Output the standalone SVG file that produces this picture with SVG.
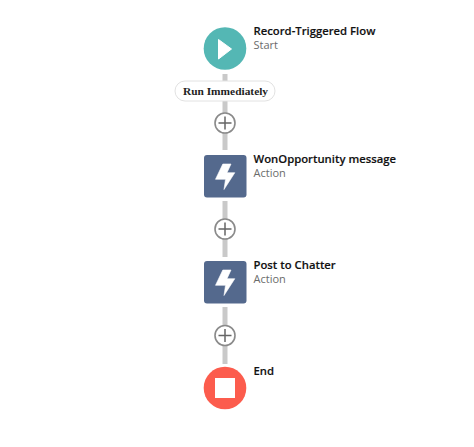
<svg xmlns="http://www.w3.org/2000/svg" width="474" height="447" viewBox="0 0 474 447">
<style>
.t{font-family:"Open Sans","Noto Sans",sans-serif;font-size:11.300px;font-weight:600;fill:#111;stroke:#111;stroke-width:.15}
.s{font-family:"Open Sans","Noto Sans",sans-serif;font-size:11px;fill:#6b6b6b}
.c{stroke:#c9c9c9;stroke-width:5;fill:none}
.a{fill:#54698d}
.w{fill:#fff}
.pc{fill:#fff;stroke:#8a8a8a;stroke-width:1.6}
.pl{stroke:#666;stroke-width:1.5;fill:none}
</style>
<defs>
<path id="bolt" d="M222.800 164H231L227 172.700H234.800L224 189.500L225.500 179.300H215.500Z" stroke="#fff" stroke-width=".6" stroke-linejoin="round"/>
<g id="plus"><circle class="pc" r="10"/><path class="pl" d="M-6.500 0H6.500M0 -6.500V6.500"/></g>
</defs>
<rect width="474" height="447" fill="#fff"/>
<g id="connectors">
<path class="c" d="M225 74V150"/>
<path class="c" d="M225 201V257"/>
<path class="c" d="M225 307V364"/>
</g>
<g id="start">
<circle cx="225" cy="48.500" r="21.300" fill="#54b7b4"/>
<path class="w" d="M218.500 39.500L231.500 49L218.500 59Z" stroke="#fff" stroke-width="1" stroke-linejoin="round"/>
<text class="t" x="253.500" y="35">Record-Triggered Flow</text>
<text class="s" x="253.500" y="49">Start</text>
</g>
<g id="run-immediately">
<rect x="175" y="81" width="100" height="20" rx="10" fill="#fff" stroke="#e2e2e2"/>
<text x="225.500" y="95" text-anchor="middle" font-family="'Liberation Serif',serif" font-size="11.400" font-weight="700" fill="#1f1f1f">Run Immediately</text>
</g>
<g id="add-1"><use href="#plus" x="225" y="123"/></g>
<g id="action-1">
<rect class="a" x="204" y="155" width="42.500" height="42.500" rx="3"/>
<use href="#bolt" class="w" y="0"/>
<text class="t" x="253.500" y="163">WonOpportunity message</text>
<text class="s" x="253.500" y="177">Action</text>
</g>
<g id="add-2"><use href="#plus" x="225" y="229"/></g>
<g id="action-2">
<rect class="a" x="204" y="261" width="42.500" height="42.500" rx="3"/>
<use href="#bolt" class="w" y="106"/>
<text class="t" x="253.500" y="269">Post to Chatter</text>
<text class="s" x="253.500" y="283">Action</text>
</g>
<g id="add-3"><use href="#plus" x="225" y="335.500"/></g>
<g id="end">
<circle cx="225" cy="388" r="21.300" fill="#fc5c4d"/>
<rect class="w" x="215" y="378" width="20" height="20"/>
<text class="t" x="253.500" y="375">End</text>
</g>
</svg>
